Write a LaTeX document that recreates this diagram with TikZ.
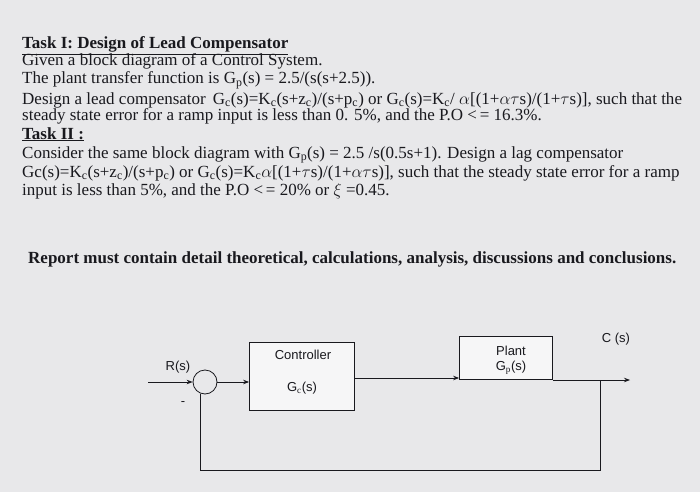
\documentclass[tikz,border=0pt]{standalone}
\usepackage{fontspec}
\setmainfont{Liberation Serif}
\setsansfont{Liberation Sans}
\usetikzlibrary{arrows.meta}
\definecolor{paper}{RGB}{232,232,234}
\definecolor{ink}{RGB}{25,25,30}
\begin{document}
\begin{tikzpicture}[x=1pt,y=-1pt,
  txt/.style={anchor=base west,inner sep=0pt,font=\fontsize{17}{19}\selectfont,text=ink},
  btxt/.style={txt,font=\bfseries\fontsize{17}{19}\selectfont},
  blk/.style={draw=ink,thick,fill=white!60!paper,minimum width=105pt,minimum height=68pt},
  lbl/.style={font=\sffamily\fontsize{13}{15}\selectfont,text=ink,inner sep=0pt},
  conn/.style={thick,draw=ink},
  arr/.style={thick,draw=ink,-{Stealth[length=6pt]}}]
\fill[paper] (0,0) rectangle (700,492);
\useasboundingbox (0,0) rectangle (700,492);
\node[btxt] (t1) at (22,49) {\underline{Task I: Design of Lead Compensator}};
\node[txt] (l1) at (22,66) {Given a block diagram of a Control System.};
\node[txt] (l2) at (22,84) {The plant transfer function is G$_\mathrm{p}$(s) = 2.5/(s(s+2.5)).};
\node[txt] (l3) at (22,104) {Design a lead compensator\, G$_\mathrm{c}$(s)=K$_\mathrm{c}$(s+z$_\mathrm{c}$)/(s+p$_\mathrm{c}$) or G$_\mathrm{c}$(s)=K$_\mathrm{c}$/ $\alpha$[(1+$\alpha\tau$s)/(1+$\tau$s)], such that the};
\node[txt] (l4) at (22,121) {steady state error for a ramp input is less than 0. 5\%, and the P.O <\,= 16.3\%.};
\node[btxt] (t2) at (22,139) {\underline{Task II :}};
\node[txt] (l5) at (22,158) {Consider the same block diagram with G$_\mathrm{p}$(s) = 2.5 /s(0.5s+1). Design a lag compensator};
\node[txt] (l6) at (22,177) {Gc(s)=K$_\mathrm{c}$(s+z$_\mathrm{c}$)/(s+p$_\mathrm{c}$) or G$_\mathrm{c}$(s)=K$_\mathrm{c}\alpha$[(1+$\tau$s)/(1+$\alpha\tau$s)], such that the steady state error for a ramp};
\node[txt] (l7) at (22,195) {input is less than 5\%, and the P.O <\,= 20\% or $\xi$ =0.45.};
\node[btxt] (rep) at (28,263) {Report must contain detail theoretical, calculations, analysis, discussions and conclusions.};

\node[draw=ink,thick,circle,minimum size=24pt,inner sep=0pt] (sum) at (205,382) {};
\node[blk] (ctrl) at (302,376) {};
\node[lbl] at (303,355) {Controller};
\node[lbl] at (302,388) {G$_\mathrm{c}$(s)};
\node[blk,minimum width=93pt,minimum height=43pt] (plant) at (506,358) {};
\node[lbl] at (511,351) {Plant};
\node[lbl] at (511,368) {G$_\mathrm{p}$(s)};
\node[lbl] at (178,367) {R(s)};
\node[lbl] at (616,339) {C (s)};
\node[lbl] at (183,404) {-};
\coordinate (rin) at (148,382);
\coordinate (out) at (630,380);
\coordinate (tap) at (600,380);
\coordinate (fb1) at (600,470);
\coordinate (fb2) at (200,470);
\draw[arr] (rin) -- (sum);
\draw[arr] (sum) -- (ctrl.west |- sum);
\draw[arr] (ctrl.east |- 0,378) -- (plant.west |- 0,378);
\draw[arr] (plant.east |- out) -- (out);
\draw[conn] (tap) -- (fb1) -- (fb2) -- (fb2 |- sum.south);
\end{tikzpicture}
\end{document}
